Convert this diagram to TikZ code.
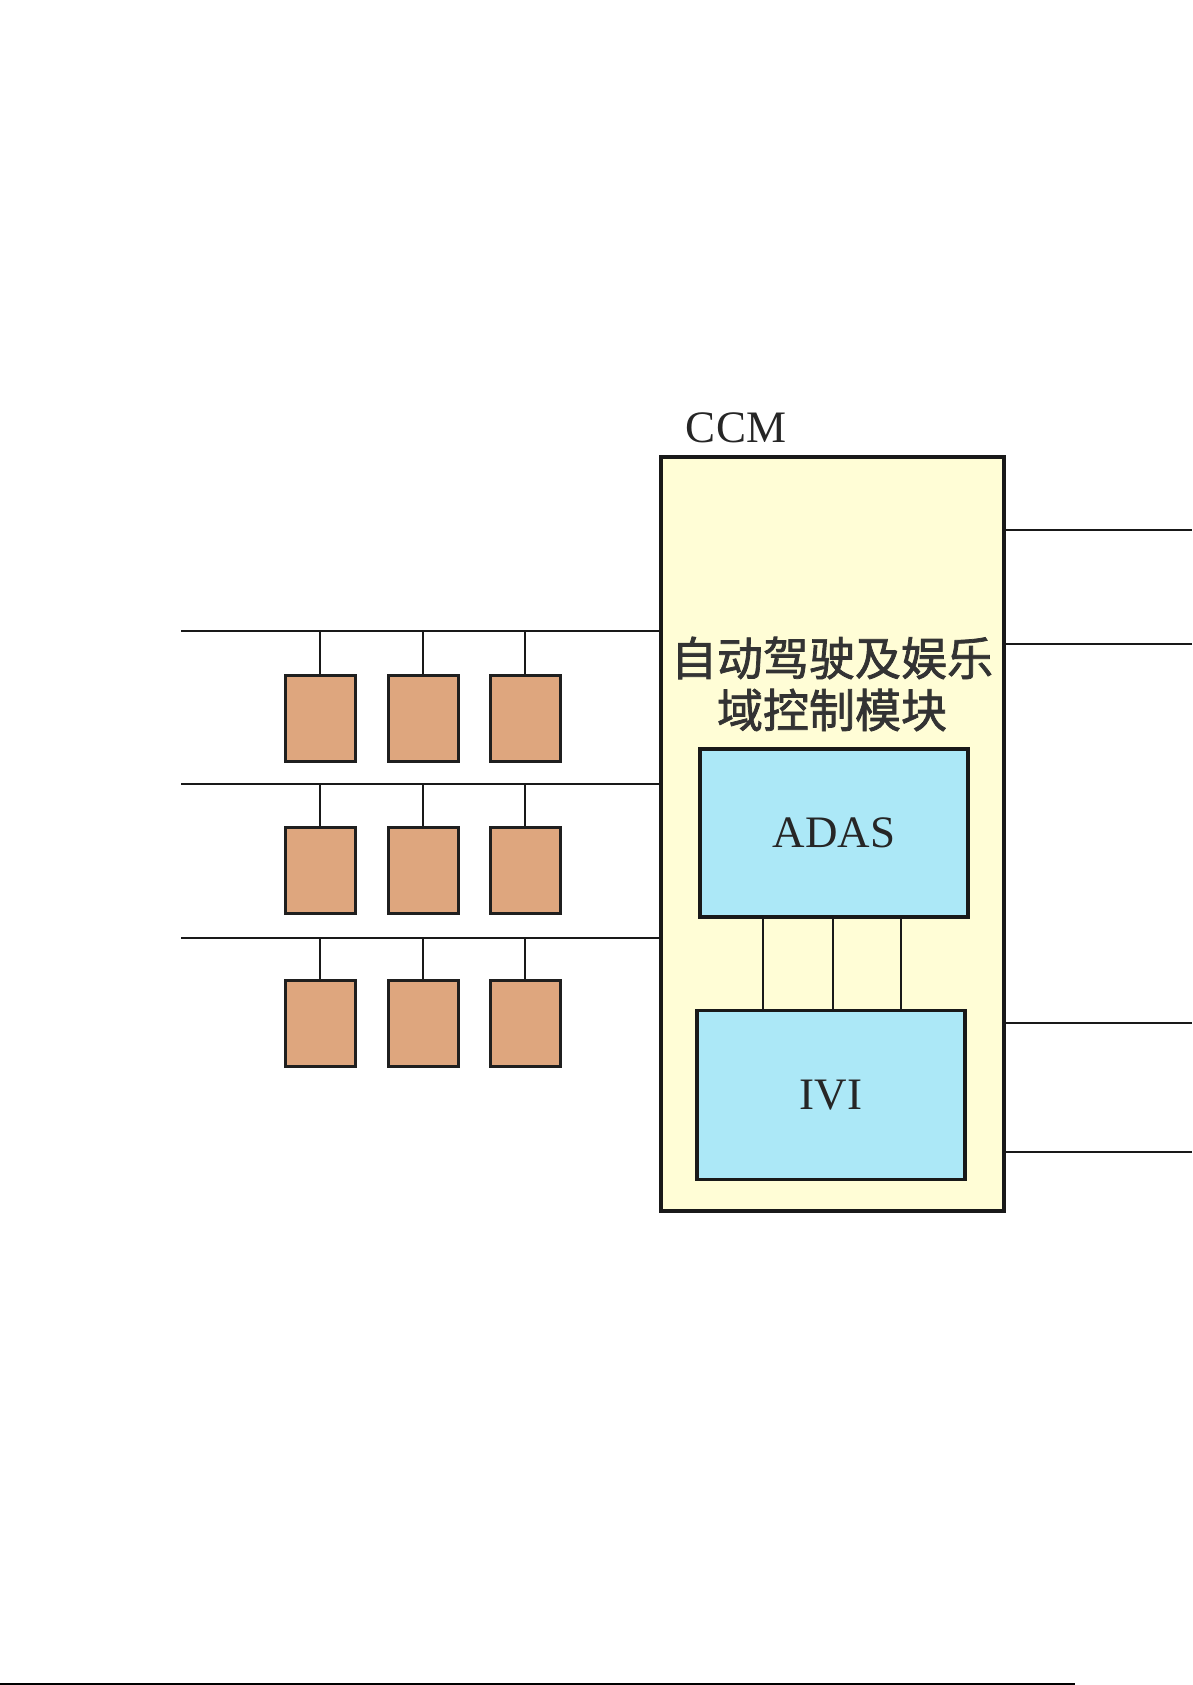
\documentclass[tikz,border=0pt]{standalone}
\usepackage{fontspec}
\setmainfont{Liberation Serif}
\newfontfamily\cjk[FakeBold=1.6]{Noto Sans CJK SC}
\begin{document}
\begin{tikzpicture}[x=1pt,y=-1pt,
  line/.style={draw=black!90, line width=2.4pt},
  ccmbox/.style={draw=black!90, line width=3.8pt, fill=ccmyellow},
  subbox/.style={draw=black!90, line width=3.4pt, fill=subcyan},
  ecubox/.style={draw=black!88, line width=3pt, fill=ecutan},
  lbl/.style={font=\fontsize{45}{50}\selectfont, text=black!85},
  cjklbl/.style={font=\cjk\fontsize{46}{52}\selectfont, text=black!80, align=center, inner sep=0pt}]
\definecolor{ccmyellow}{RGB}{255,253,214}
\definecolor{subcyan}{RGB}{172,232,247}
\definecolor{ecutan}{RGB}{222,166,126}
\useasboundingbox (0,0) rectangle (1192,1685);
\fill[white] (0,0) rectangle (1192,1685);

% CCM box
\path[ccmbox] (661,457) rectangle (1004,1211);
\coordinate (ccmL1) at (661,631);
\coordinate (ccmL2) at (661,784);
\coordinate (ccmL3) at (661,938);
\node[lbl, anchor=base] (ccm) at (736,442) {CCM};
\node[cjklbl] (dom) at (832,684) {自动驾驶及娱乐\\域控制模块};

% ADAS and IVI
\node[subbox, minimum width=268pt, minimum height=168pt, inner sep=0pt] (adas) at (834,833) {};
\node[lbl] at (adas.center) {ADAS};
\node[subbox, minimum width=268pt, minimum height=169pt, inner sep=0pt] (ivi) at (831,1095) {};
\node[lbl] at (ivi.center) {IVI};
\foreach \x in {763,833,901} {
  \draw[line] (\x,917) -- (\x,1010);
}

% right lines
\foreach \y [count=\i] in {530,644,1023,1152} {
  \coordinate (r\i) at (1192,\y);
  \draw[line] (1004,\y) -- (r\i);
}

% left buses and ECUs
\foreach \y/\t [count=\r] in {631/674,784/826,938/979} {
  \coordinate (b\r) at (181,\y);
  \draw[line] (b\r) -- (ccmL\r);
  \foreach \x [count=\c] in {320,423,525} {
    \node[ecubox, minimum width=70pt, minimum height=86pt, inner sep=0pt, anchor=north] (e\r\c) at (\x,\t) {};
    \draw[line] (\x,\y) -- (e\r\c.north);
  }
}

% scan edge line at bottom
\draw[black, line width=1.5pt] (0,1684) -- (1075,1684);
\end{tikzpicture}
\end{document}
